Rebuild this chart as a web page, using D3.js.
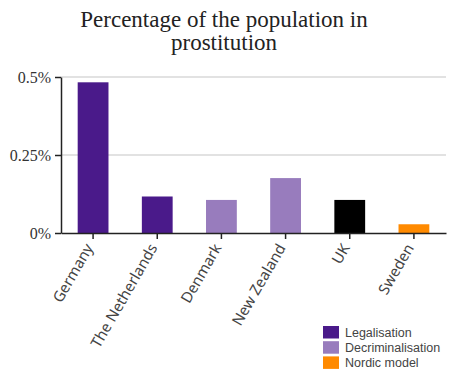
<!DOCTYPE html>
<html>
<head>
<meta charset="utf-8">
<script src="https://cdn.jsdelivr.net/npm/d3@7"></script>
<style>
  body { margin: 0; background: #fff; }
  svg { display: block; }
</style>
</head>
<body>
<svg width="474" height="384"></svg>
<script>
// data
const countries = ["Germany", "The Netherlands", "Denmark", "New Zealand", "UK", "Sweden"];
const values = [0.483, 0.117, 0.106, 0.176, 0.106, 0.028];
const models = ["Legalisation", "Legalisation", "Decriminalisation", "Decriminalisation", "Other", "Nordic model"];
const yTicks = [0, 0.25, 0.5];
const yTickLabels = ["0%", "0.25%", "0.5%"];
const legendItems = ["Legalisation", "Decriminalisation", "Nordic model"];

const colors = {
  "Legalisation": "#4a1a8a",
  "Decriminalisation": "#987cbd",
  "Nordic model": "#ff8a00",
  "Other": "#000000"
};

const margin = {top: 77, right: 28, bottom: 151, left: 61},
      width = 474 - margin.left - margin.right,
      height = 384 - margin.top - margin.bottom;

const svg = d3.select("svg");

// title
svg.append("text")
  .attr("x", 224).attr("y", 27)
  .attr("text-anchor", "middle")
  .style("font-family", "Liberation Serif, serif")
  .style("font-size", "23px")
  .style("fill", "#222")
  .selectAll("tspan")
  .data(["Percentage of the population in", "prostitution"])
  .join("tspan")
    .attr("x", 224)
    .attr("dy", (d, i) => i ? 23 : 0)
    .text(d => d);

const g = svg.append("g")
  .attr("transform", `translate(${margin.left},${margin.top})`);

const x = d3.scaleBand()
  .domain(countries)
  .range([0, width])
  .paddingInner(0.52)
  .paddingOuter(0.26);

const y = d3.scaleLinear()
  .domain([0, 0.5])
  .range([height, 0]);

// gridlines
g.append("g")
  .selectAll("line")
  .data(yTicks.filter(d => d > 0))
  .join("line")
    .attr("x1", 0).attr("x2", width)
    .attr("y1", d => y(d)).attr("y2", d => y(d))
    .attr("stroke", "#d9d9d9")
    .attr("stroke-width", 1.5);

// bars
g.append("g")
  .selectAll("rect")
  .data(countries)
  .join("rect")
    .attr("x", d => x(d))
    .attr("y", (d, i) => y(values[i]))
    .attr("width", x.bandwidth())
    .attr("height", (d, i) => height - y(values[i]))
    .attr("fill", (d, i) => colors[models[i]]);

// y axis
const yAxis = g.append("g")
  .call(d3.axisLeft(y).tickValues(yTicks).tickFormat((d, i) => yTickLabels[i]).tickSize(6).tickSizeOuter(0));
yAxis.select(".domain").attr("stroke", "#222").attr("stroke-width", 1.5);
yAxis.selectAll(".tick line").attr("stroke", "#222").attr("stroke-width", 1.5);
yAxis.selectAll(".tick text")
  .attr("x", -10)
  .style("font-family", "Liberation Serif, serif")
  .style("font-size", "16px")
  .style("fill", "#333");

// x axis
const xAxis = g.append("g")
  .attr("transform", `translate(0,${height})`)
  .call(d3.axisBottom(x).tickSize(6).tickSizeOuter(0));
xAxis.select(".domain").attr("stroke", "#222").attr("stroke-width", 1.5);
xAxis.selectAll(".tick line").attr("stroke", "#222").attr("stroke-width", 1.5);
xAxis.selectAll(".tick text")
  .attr("text-anchor", "end")
  .attr("dy", "0.35em")
  .attr("transform", "translate(-4,12) rotate(-60)")
  .attr("x", 0).attr("y", 0)
  .style("font-family", "Noto Sans, sans-serif")
  .style("font-size", "15px")
  .style("fill", "#444");

// legend
const legend = svg.append("g")
  .attr("transform", "translate(323,326)");
const rows = legend.selectAll("g")
  .data(legendItems)
  .join("g")
    .attr("transform", (d, i) => `translate(0,${i * 15.2})`);
rows.append("rect")
  .attr("width", 16).attr("height", 12.5)
  .attr("fill", d => colors[d]);
rows.append("text")
  .attr("x", 22).attr("y", 6.5)
  .attr("dy", "0.35em")
  .style("font-family", "Liberation Sans, sans-serif")
  .style("font-size", "12.5px")
  .style("fill", "#444")
  .text(d => d);
</script>
</body>
</html>
